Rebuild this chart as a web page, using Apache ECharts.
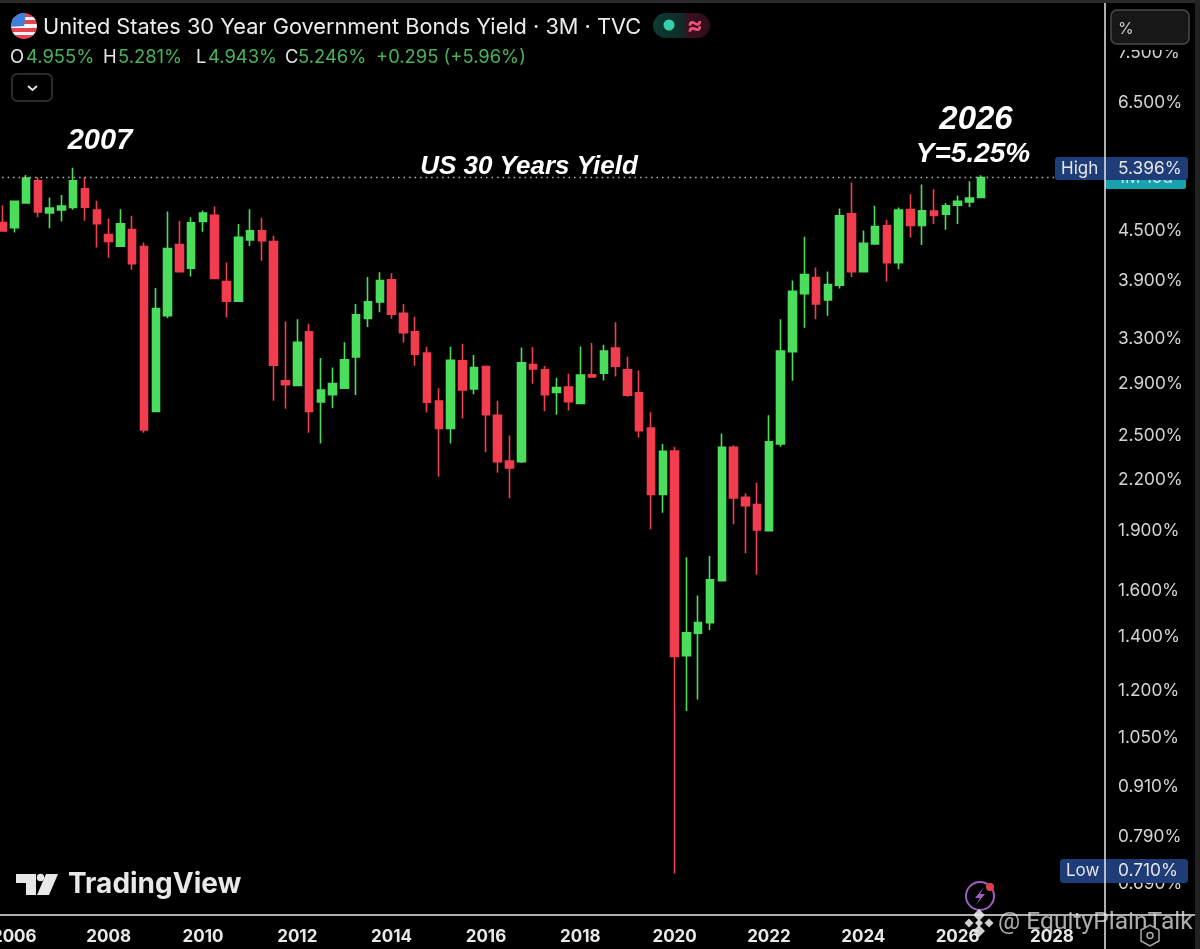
<!DOCTYPE html>
<html><head><meta charset="utf-8">
<style>html,body{margin:0;padding:0;background:#000}#c{width:1200px;height:949px}</style>
<script src="https://cdn.jsdelivr.net/npm/echarts@6/dist/echarts.min.js"></script></head>
<body><div id="c"></div>
<script>
const categories=['2005 Q4',
'2006 Q1','2006 Q2','2006 Q3','2006 Q4','2007 Q1','2007 Q2','2007 Q3','2007 Q4','2008 Q1','2008 Q2','2008 Q3','2008 Q4',
'2009 Q1','2009 Q2','2009 Q3','2009 Q4','2010 Q1','2010 Q2','2010 Q3','2010 Q4','2011 Q1','2011 Q2','2011 Q3','2011 Q4',
'2012 Q1','2012 Q2','2012 Q3','2012 Q4','2013 Q1','2013 Q2','2013 Q3','2013 Q4','2014 Q1','2014 Q2','2014 Q3','2014 Q4',
'2015 Q1','2015 Q2','2015 Q3','2015 Q4','2016 Q1','2016 Q2','2016 Q3','2016 Q4','2017 Q1','2017 Q2','2017 Q3','2017 Q4',
'2018 Q1','2018 Q2','2018 Q3','2018 Q4','2019 Q1','2019 Q2','2019 Q3','2019 Q4','2020 Q1','2020 Q2','2020 Q3','2020 Q4',
'2021 Q1','2021 Q2','2021 Q3','2021 Q4','2022 Q1','2022 Q2','2022 Q3','2022 Q4','2023 Q1','2023 Q2','2023 Q3','2023 Q4',
'2024 Q1','2024 Q2','2024 Q3','2024 Q4','2025 Q1','2025 Q2','2025 Q3','2025 Q4','2026 Q1','2026 Q2','2026 Q3','2026 Q4',
'2027 Q1','2027 Q2','2027 Q3','2027 Q4','2028 Q1','2028 Q2','2028 Q3','2028 Q4','2029 Q1'];
const opens=[4.61,4.54,4.877,5.195,4.738,4.78,4.812,5.078,4.776,4.452,4.307,4.517,4.302,2.678,3.527,4.327,4.043,4.622,4.705,3.89,3.677,4.385,4.5,4.364,2.925,2.887,3.367,2.753,2.811,2.864,3.133,3.498,3.67,3.909,3.552,3.367,3.167,2.76,2.55,3.097,2.858,3.047,2.65,2.322,2.319,3.064,3.02,2.828,2.873,2.74,2.976,2.99,3.213,3.018,2.825,2.553,2.11,2.391,1.328,1.416,1.46,1.647,2.417,2.093,2.05,1.902,2.44,3.181,3.757,3.935,3.691,3.849,4.725,4.003,4.335,4.565,4.108,4.784,4.569,4.762,4.72,4.843,4.89,4.955];
const closes=[4.5,4.9,5.236,4.752,4.804,4.832,5.195,4.818,4.595,4.364,4.591,4.096,2.54,3.6,4.277,4.003,4.604,4.738,3.924,3.677,4.419,4.5,4.376,3.059,2.892,3.268,2.678,2.848,2.902,3.106,3.535,3.67,3.901,3.542,3.358,3.158,2.75,2.55,3.103,2.85,3.038,2.654,2.319,2.277,3.08,3.027,2.811,2.869,2.755,2.973,2.958,3.185,3.05,2.806,2.535,2.11,2.389,1.325,1.418,1.46,1.651,2.417,2.089,2.043,1.906,2.454,3.185,3.784,3.97,3.648,3.857,4.699,4.003,4.343,4.556,4.108,4.776,4.569,4.766,4.705,4.835,4.9,4.945,5.246];
const lows=[4.49,4.48,4.87,4.681,4.535,4.622,4.78,4.632,4.289,4.165,4.3,4.023,2.52,2.675,3.502,4.0,3.946,4.49,3.92,3.508,3.67,4.31,4.13,2.763,2.7,2.88,2.52,2.443,2.704,2.86,2.808,3.413,3.563,3.495,3.265,3.055,2.67,2.221,2.443,2.624,2.814,2.382,2.246,2.088,2.31,2.9,2.68,2.654,2.685,2.735,2.95,2.927,2.961,2.795,2.485,1.91,2.002,0.71,1.133,1.171,1.43,1.645,1.937,1.782,1.675,1.9,2.42,2.925,3.406,3.492,3.525,3.813,3.94,4.0,4.33,3.89,4.03,4.415,4.32,4.59,4.513,4.59,4.818,4.943];
const highs=[4.84,4.9,5.285,5.255,4.952,4.99,5.396,5.25,4.905,4.662,4.79,4.699,4.352,3.82,4.756,4.628,4.681,4.77,4.826,4.108,4.591,4.79,4.672,4.436,3.468,3.492,3.445,3.124,3.038,3.268,3.648,3.94,3.996,3.985,3.648,3.515,3.225,2.864,3.225,3.253,3.15,3.05,2.763,2.5,3.219,3.223,3.053,2.95,2.984,3.228,3.26,3.245,3.462,3.135,3.012,2.673,2.44,2.42,1.762,1.579,1.768,2.515,2.43,2.118,2.183,2.65,3.492,3.901,4.424,4.05,4.003,4.8,5.17,4.505,4.835,4.645,4.812,5.0,5.14,5.07,4.875,4.98,5.19,5.281];
const yTicks=[7.5,6.5,4.5,3.9,3.3,2.9,2.5,2.2,1.9,1.6,1.4,1.2,1.05,0.91,0.79,0.69];
const annotationLevel=5.25;
const title='United States 30 Year Government Bonds Yield · 3M · TVC';
const UI='Inter,Roboto,sans-serif', GREEN='#4ade5c', RED='#f23d4f', VAL='#46b35a', BOLD='Liberation Sans,Arial,sans-serif';
const candles=opens.map((o,i)=>[o,closes[i],lows[i],highs[i]]);

function txt(x,y,s,fill,size,extra,z){return {type:'text',z:z||120,silent:true,style:Object.assign({x,y,text:s,fill,fontSize:size,fontFamily:UI,textVerticalAlign:'middle'},extra||{})};}
function box(x,y,w,h,fill,r,z,stroke){return {type:'rect',z:z||110,silent:true,shape:{x,y,width:w,height:h,r:r||0},style:{fill,stroke:stroke||null,lineWidth:stroke?1.5:0}};}
function line(x1,y1,x2,y2,c,w,z){return {type:'line',z:z||115,silent:true,shape:{x1,y1,x2,y2},style:{stroke:c,lineWidth:w||1.5}};}
function dia(cx,cy,r){return {type:'polygon',z:126,silent:true,shape:{points:[[cx,cy-r],[cx+r,cy],[cx,cy+r],[cx-r,cy]]},style:{fill:'rgba(232,232,232,0.9)'}};}
const ann={fontFamily:BOLD,fontWeight:'bold',fontStyle:'italic',textAlign:'center'};
const stripes=[];for(let i=0;i<7;i++){const c=i%2?'#f4f4f4':'#e4434f';stripes.push({offset:i/7,color:c},{offset:(i+1)/7,color:c});}
const graphics=[
 // frame + price-scale covers
 box(0,0,1200,3,'#2a2a2a',0,130), box(1195,0,5,949,'#222',0,130),
 box(1106,0,89,50,'#000',0,105), box(1106,889,89,26,'#000',0,105),
 box(1111,10,78,34,'#171717',6,112,'#4a4a4a'), txt(1118,29,'%','#cfcfcf',16),
 // countdown + High/Low tags
 box(1105,178,81,11,'#17a2ad',2,106),
 txt(1118,178,'1M 19d','#bfe9f2',17,null,107),
 box(1055,157,133,23,'#1d3c78',3,110),
 txt(1061,168.5,'High','#e6e6e6',17), txt(1118,168.5,'5.396%','#e6e6e6',17.3),
 box(1060,859,128,24,'#1d3c78',3,110),
 txt(1066,871,'Low','#e6e6e6',17), txt(1118,871,'0.710%','#e6e6e6',17.3),
 line(1105,0,1105,949,'#e8e8e8',1.5,125), line(0,915,1195,915,'#e8e8e8',1.5,125),
 // header
 {type:'circle',z:120,silent:true,shape:{cx:24,cy:26,r:13},style:{fill:{type:'linear',x:0,y:0,x2:0,y2:1,colorStops:stripes}}},
 {type:'sector',z:121,silent:true,shape:{cx:24,cy:26,r:13,r0:0,startAngle:Math.PI*0.98,endAngle:Math.PI*1.55},style:{fill:'#3f7fd9'}},
 txt(43,27,title,'#ececec',21.75),
 txt(10,57,'O','#e6e6e6',18.4), txt(26,57,'4.955%',VAL,18.4),
 txt(103,57,'H','#e6e6e6',18.4), txt(118,57,'5.281%',VAL,18.4),
 txt(196,57,'L','#e6e6e6',18.4), txt(208,57,'4.943%',VAL,18.4),
 txt(285,57,'C','#e6e6e6',18.4), txt(298,57,'5.246%',VAL,18.4),
 txt(376,57,'+0.295 (+5.96%)',VAL,18.4),
 box(12,74,40,27,'#000',5,112,'#3a3a3a'),
 {type:'polyline',z:120,silent:true,shape:{points:[[28,86],[32.5,90],[37,86]]},style:{stroke:'#e8e8e8',lineWidth:1.8,fill:null}},
 {type:'rect',z:112,silent:true,shape:{x:653,y:13,width:57,height:25,r:12.5},style:{fill:{type:'linear',x:0,y:0,x2:1,y2:0,colorStops:[{offset:0,color:'#0f3a32'},{offset:0.5,color:'#0f2c28'},{offset:0.62,color:'#3a1020'},{offset:1,color:'#2e0e1a'}]}}},
 {type:'circle',z:120,silent:true,shape:{cx:669,cy:25,r:5.5},style:{fill:'#35d0ad'}},
 txt(695,26,'≈','#f0507f',24,{fontWeight:'bold',textAlign:'center'}),
 // annotations
 txt(100,141,'2007','#fff',29,ann),
 txt(529,167,'US 30 Years Yield','#fff',26,ann),
 txt(976,120,'2026','#fff',33,ann),
 txt(973,154,'Y=5.25%','#fff',28,ann),
 // TradingView logo
 {type:'polygon',z:120,silent:true,shape:{points:[[16,874],[36,874],[36,895],[26,895],[26,883],[16,883]]},style:{fill:'#e8e8e8'}},
 {type:'circle',z:120,silent:true,shape:{cx:40.5,cy:877.5,r:3.7},style:{fill:'#e8e8e8'}},
 {type:'polygon',z:120,silent:true,shape:{points:[[46,874],[58,874],[49,895],[37,895]]},style:{fill:'#e8e8e8'}},
 txt(68,885,'TradingView','#e8e8e8',28,{fontWeight:'bold'}),
 // watermark badges
 {type:'circle',z:120,silent:true,shape:{cx:980,cy:896,r:14},style:{fill:'#000',stroke:'#a45cc4',lineWidth:2}},
 {type:'polygon',z:121,silent:true,shape:{points:[[984,887],[975,898],[980,898],[976,905],[985,894],[980,894]]},style:{fill:'#a45cc4'}},
 {type:'circle',z:122,silent:true,shape:{cx:990,cy:887,r:4},style:{fill:'#e0404a'}},
 dia(979,915,6), dia(969,923,4.5), dia(989,923,4.5), dia(979,931,6), dia(979,923,4),
 txt(998,923,'@ EquityPlainTalk','rgba(215,215,215,0.8)',24.6,{fontFamily:'Roboto,sans-serif'}),
 {type:'polygon',z:120,silent:true,shape:{points:[[1141,930],[1150,925],[1159,930],[1159,941],[1150,946],[1141,941]]},style:{fill:'#000',stroke:'#a8a8a8',lineWidth:1.5}},
 {type:'circle',z:121,silent:true,shape:{cx:1150,cy:935.5,r:3},style:{fill:'#000',stroke:'#a8a8a8',lineWidth:1.5}}
];
const chart=echarts.init(document.getElementById('c'),null,{renderer:'canvas'});
chart.setOption({
 animation:false,backgroundColor:'#000',
 grid:{left:-3.4,right:95,top:0,bottom:34,containLabel:false,outerBoundsMode:'none'},
 xAxis:{type:'category',data:categories,boundaryGap:true,
  axisLine:{show:false},axisTick:{show:false},splitLine:{show:false},
  axisLabel:{color:'#e8e8e8',fontFamily:UI,fontWeight:'bold',fontSize:17,margin:13,hideOverlap:false,
   interval:(i)=>(i-1)%8===0,formatter:(v)=>v.slice(0,4)}},
 yAxis:{type:'log',logBase:10,position:'right',min:0.6304,max:8.735,
  axisLine:{show:false},axisTick:{show:false},splitLine:{show:false},minorTick:{show:false},minorSplitLine:{show:false},
  axisLabel:{color:'#d4d4d4',fontFamily:UI,fontSize:17.3,margin:13,padding:[5,0,0,0],customValues:yTicks,formatter:(v)=>Number(v).toFixed(3)+'%'}},
 series:[{type:'candlestick',data:candles,barWidth:8,
  itemStyle:{color:GREEN,color0:RED,borderColor:GREEN,borderColor0:RED,borderWidth:1.6},
  markLine:{silent:true,symbol:'none',label:{show:false},
   lineStyle:{color:'#a9bdb0',type:[1.5,4],width:1.4},data:[{yAxis:annotationLevel}]}}],
 graphic:{elements:graphics}
});
</script></body></html>
